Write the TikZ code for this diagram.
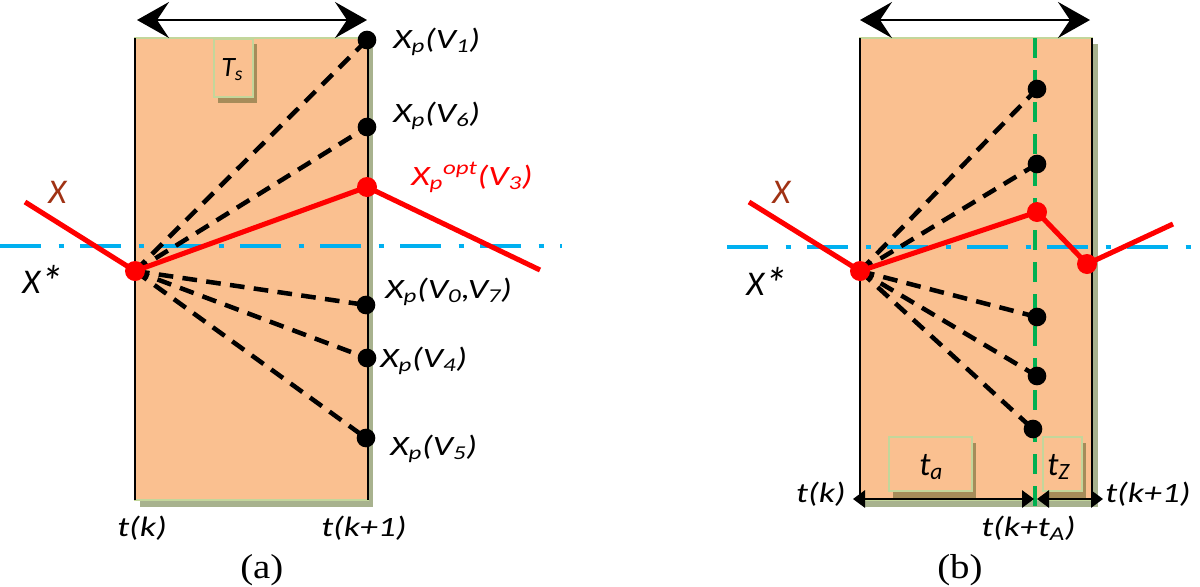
\documentclass[tikz,border=0pt]{standalone}
\usepackage{fontspec}
\setmainfont{Carlito}
\newfontfamily\widefont{Carlito}[FakeStretch=1.27]
\newfontfamily\capfont{Liberation Serif}[FakeStretch=1.12]
\usetikzlibrary{arrows.meta}
\definecolor{peach}{RGB}{250,192,144}
\definecolor{lgreen}{RGB}{195,214,155}
\definecolor{rshadow}{RGB}{168,178,142}
\definecolor{bshadow}{RGB}{166,140,90}
\definecolor{xbrown}{RGB}{160,50,20}
\definecolor{cyanline}{RGB}{0,176,240}
\definecolor{gline}{RGB}{0,176,80}
\newcommand{\bigast}{\raisebox{-3pt}{\fontsize{34}{34}\selectfont *}}
\tikzset{
  panelbox/.style={fill=peach, draw=lgreen, line width=2.2pt},
  mainshadow/.style={fill=rshadow, draw=none},
  boxshadow/.style={fill=bshadow, draw=none},
  smallbox/.style={fill=peach, draw=lgreen, line width=1.6pt},
  edgeline/.style={black, line width=1.5pt},
  lbl/.style={font=\widefont\fontsize{21}{25}\selectfont\itshape, inner sep=0pt, anchor=base west},
  biglbl/.style={font=\fontsize{26}{30}\selectfont\itshape, inner sep=0pt, anchor=base west},
  boxlbl/.style={font=\fontsize{25}{30}\selectfont\itshape, inner sep=0pt, anchor=base west},
  caplbl/.style={font=\capfont\fontsize{26}{30}\selectfont, inner sep=0pt, anchor=base west},
  bdot/.style={circle, fill=black, minimum size=14pt, inner sep=0pt},
  rdot/.style={circle, fill=red, minimum size=15pt, inner sep=0pt},
  trial/.style={black, line width=3.4pt, dash pattern=on 11pt off 7pt},
  xline/.style={red, line width=3.8pt, line join=round},
  refline/.style={cyanline, line width=3pt, dash pattern=on 31pt off 13pt on 4pt off 12pt},
  gdash/.style={gline, line width=3pt, dash pattern=on 15pt off 9pt},
  span/.style={line width=2pt, {Stealth[length=24pt,width=27pt,inset=9pt]}-{Stealth[length=24pt,width=27pt,inset=9pt]}},
  tspan/.style={line width=1.5pt, {Triangle[length=9pt,width=13pt]}-{Triangle[length=9pt,width=13pt]}}
}
\begin{document}
\begin{tikzpicture}[x=0.75pt,y=-0.75pt]
\useasboundingbox (0,0) rectangle (1200,586);
% ================= panel (a) =================
\fill[mainshadow] (140,45) rectangle (373,507);
\draw[panelbox] (135,38) rectangle (368,500);
\fill[boxshadow] (218,44) rectangle (257,103);
\draw[smallbox] (214,39) rectangle (253,97);
\node[boxlbl, font=\fontsize{21}{24}\selectfont\itshape] (ts) at (221,76) {T\textsubscript{s}};
\draw[edgeline] (135,38) -- (135,500);
\draw[edgeline] (368,38) -- (368,500);
\coordinate (sa1) at (137,20);
\coordinate (sa2) at (367,20);
\draw[span] (sa1) -- (sa2);
\coordinate (ba1) at (0,246);
\coordinate (ba2) at (562,246);
\draw[refline] (ba1) -- (ba2);
\coordinate (oa) at (135,271);
\coordinate (a1) at (367,40);
\coordinate (a6) at (367,127);
\coordinate (a07) at (366,305);
\coordinate (a4) at (367,358);
\coordinate (a5) at (366,438);
\coordinate (a3) at (367,187);
\coordinate (xa0) at (25,202);
\coordinate (xa9) at (540,270);
\foreach \p in {a1,a6,a07,a4,a5} \draw[trial] (oa) -- (\p);
\draw[xline] (xa0) -- (oa) -- (a3) -- (xa9);
\foreach \p in {a1,a6,a07,a4,a5} \node[bdot] (d\p) at (\p) {};
\node[rdot] (da3) at (a3) {};
\node[rdot] (doa) at (oa) {};
\node[lbl] (la1) at (393,48) {X\textsubscript{p}(V\textsubscript{1})};
\node[lbl] (la6) at (393,122) {X\textsubscript{p}(V\textsubscript{6})};
\node[lbl, text=red] (la3) at (411,185) {X\textsubscript{p}\textsuperscript{opt}(V\textsubscript{3})};
\node[lbl] (la07) at (385,298) {X\textsubscript{p}(V\textsubscript{0},V\textsubscript{7})};
\node[lbl] (la4) at (380,367) {X\textsubscript{p}(V\textsubscript{4})};
\node[lbl] (la5) at (390,455) {X\textsubscript{p}(V\textsubscript{5})};
\node[biglbl, text=xbrown] (lxa) at (48,203) {X};
\node[biglbl] (lxsa) at (22,293) {X\bigast};
\node[lbl] (ltka) at (117,536) {t(k)};
\node[lbl] (ltk1a) at (321,536) {t(k+1)};
\node[caplbl] (capa) at (240,578) {(a)};
% ================= panel (b) =================
\fill[mainshadow] (865,44) rectangle (1098,507);
\draw[panelbox] (860,38) rectangle (1092,500);
\fill[boxshadow] (893,443) rectangle (976,498);
\draw[smallbox] (889,437) rectangle (972,491);
\fill[boxshadow] (1046,443) rectangle (1086,498);
\draw[smallbox] (1043,437) rectangle (1082,491);
\node[boxlbl] (lta) at (919,475) {t\textsubscript{a}};
\node[boxlbl] (ltz) at (1047,475) {t\textsubscript{Z}};
\draw[edgeline] (860,38) -- (860,500);
\draw[edgeline] (1092,38) -- (1092,500);
\coordinate (sb1) at (860,20);
\coordinate (sb2) at (1090,20);
\draw[span] (sb1) -- (sb2);
\coordinate (bb1) at (727,247);
\coordinate (bb2) at (1200,247);
\draw[refline] (bb1) -- (bb2);
\coordinate (g1) at (1035,38);
\coordinate (g2) at (1035,510);
\draw[gdash] (g1) -- (g2);
\coordinate (ob) at (860,271);
\coordinate (b1) at (1037,89);
\coordinate (b2) at (1037,164);
\coordinate (b3) at (1037,317);
\coordinate (b4) at (1037,376);
\coordinate (b5) at (1033,429);
\coordinate (rb1) at (1037,212);
\coordinate (rb2) at (1087,264);
\coordinate (xb0) at (749,202);
\coordinate (xb9) at (1173,224);
\foreach \p in {b1,b2,b3,b4,b5} \draw[trial] (ob) -- (\p);
\draw[xline] (xb0) -- (ob) -- (rb1) -- (rb2) -- (xb9);
\foreach \p in {b1,b2,b3,b4,b5} \node[bdot] (d\p) at (\p) {};
\node[rdot] (drb1) at (rb1) {};
\node[rdot] (drb2) at (rb2) {};
\node[rdot] (dob) at (ob) {};
\coordinate (tl) at (853,499);
\coordinate (tm1) at (1034,499);
\coordinate (tm2) at (1037,499);
\coordinate (tr) at (1103,499);
\draw[tspan] (tl) -- (tm1);
\draw[tspan] (tm2) -- (tr);
\node[biglbl, text=xbrown] (lxb) at (772,203) {X};
\node[biglbl] (lxsb) at (746,295) {X\bigast};
\node[lbl, anchor=base east] (ltkb) at (846,502) {t(k)};
\node[lbl] (ltk1b) at (1105,502) {t(k+1)};
\node[lbl] (ltkab) at (981,536) {t(k+t\textsubscript{A})};
\node[caplbl] (capb) at (937,578) {(b)};
\end{tikzpicture}
\end{document}
